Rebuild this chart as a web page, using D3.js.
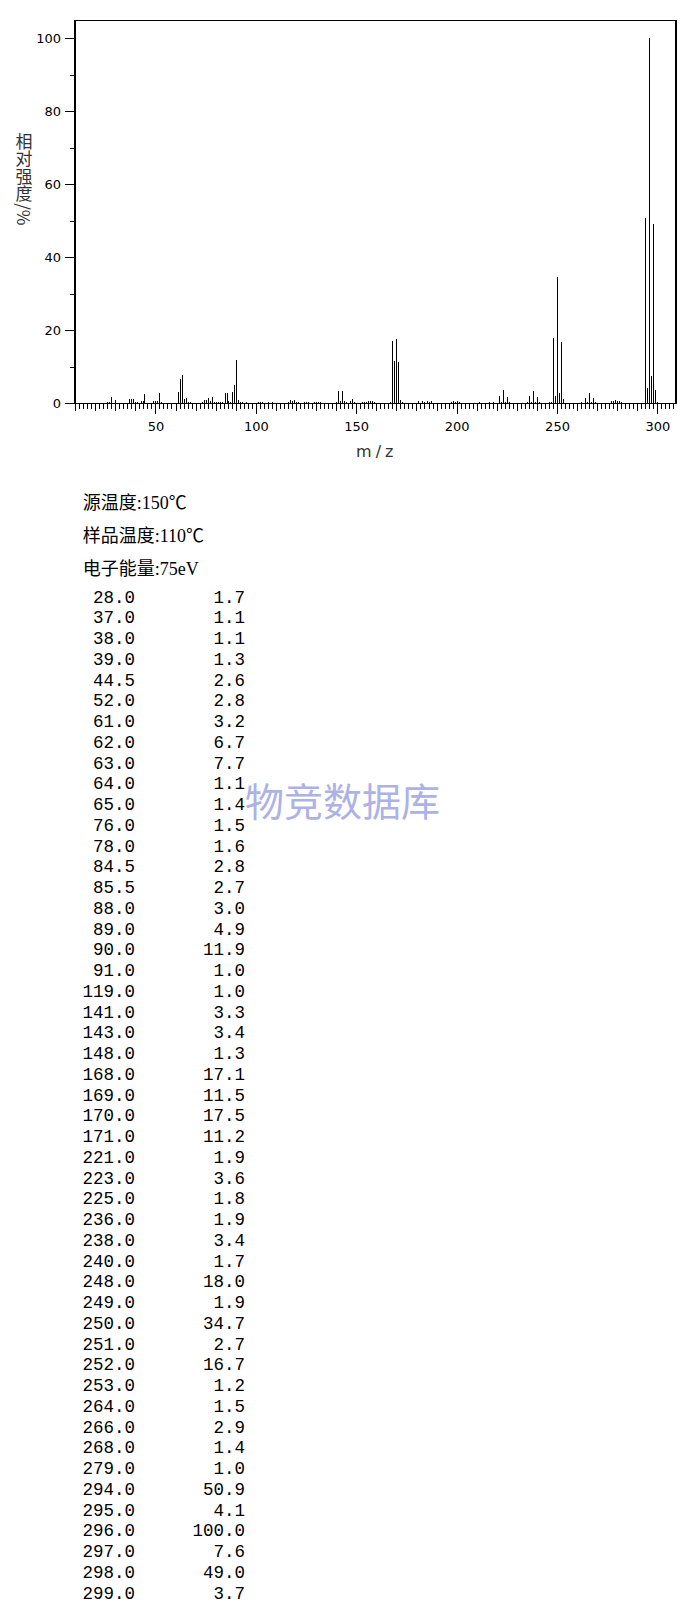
<!DOCTYPE html>
<html><head><meta charset="utf-8">
<script src="https://cdn.jsdelivr.net/npm/d3@7"></script>
<style>
html,body{margin:0;padding:0;background:#fff;}
svg{display:block;}
</style></head>
<body>
<script>
// ---- data ----
const tableMz = [28,37,38,39,44.5,52,61,62,63,64,65,76,78,84.5,85.5,88,89,90,91,119,141,143,148,168,169,170,171,221,223,225,236,238,240,248,249,250,251,252,253,264,266,268,279,294,295,296,297,298,299];
const tableInt = [1.7,1.1,1.1,1.3,2.6,2.8,3.2,6.7,7.7,1.1,1.4,1.5,1.6,2.8,2.7,3.0,4.9,11.9,1.0,1.0,3.3,3.4,1.3,17.1,11.5,17.5,11.2,1.9,3.6,1.8,1.9,3.4,1.7,18.0,1.9,34.7,2.7,16.7,1.2,1.5,2.9,1.4,1.0,50.9,4.1,100.0,7.6,49.0,3.7];
// small peaks (< 1 %) visible in the spectrum but not listed
const minorMz = [26,27,30,40,41,43,44,49,50,51,53,66,67,73,74,75,77,79,80,81,82,83,86,87,92,93,95,101,102,103,106,108,116,117,118,120,121,124,125,126,129,130,131,132,140,142,144,145,147,149,153,154,155,156,157,158,159,167,172,173,181,183,184,185,186,187,197,198,199,200,201,211,216,218,222,224,226,235,237,239,241,246,247,262,265,267,269,277,278,280,281,282,300];
const minorInt = [0.3,0.3,0.8,0.3,0.3,0.7,0.7,0.5,0.7,0.7,0.4,0.3,0.3,0.3,0.9,0.9,0.7,0.4,0.4,0.4,0.4,0.4,0.5,0.3,0.3,0.3,0.3,0.3,0.3,0.3,0.3,0.3,0.3,0.8,0.5,0.3,0.3,0.3,0.3,0.3,0.3,0.3,0.3,0.3,0.3,0.7,0.7,0.3,0.5,0.4,0.3,0.3,0.3,0.6,0.5,0.5,0.3,0.3,0.8,0.3,0.5,0.5,0.3,0.5,0.3,0.5,0.3,0.5,0.3,0.5,0.3,0.3,0.3,0.3,0.4,0.4,0.3,0.3,0.3,0.3,0.3,0.3,0.3,0.3,0.3,0.3,0.3,0.5,0.5,0.6,0.6,0.3,0.3];
const yTickValues = [0,20,40,60,80,100];
const xTickLabels = [50,100,150,200,250,300];
const infoLines = ["源温度:150℃","样品温度:110℃","电子能量:75eV"];
const yAxisTitle = "相对强度/%";
const xAxisTitle = "m/z";
const watermark = "物竞数据库";

// ---- layout ----
const W = 687, H = 1605;
const svg = d3.select("body").append("svg").attr("width", W).attr("height", H);
const x = d3.scaleLinear().domain([9.7, 309]).range([75, 676]);
const y = d3.scaleLinear().domain([0, 100]).range([403.3, 38.3]);
const yTop = 104.8;

const peaks = tableMz.map((m,i)=>({m, v: tableInt[i]}))
  .concat(minorMz.map((m,i)=>({m, v: minorInt[i]})));

// peaks
svg.append("g").attr("shape-rendering","crispEdges")
  .selectAll("line").data(peaks).join("line")
  .attr("x1", d=>x(d.m)).attr("x2", d=>x(d.m))
  .attr("y1", y(0)).attr("y2", d=>y(d.v))
  .attr("stroke","#000").attr("stroke-width",1);

// frame
svg.append("path").attr("shape-rendering","crispEdges")
  .attr("d", `M${x(9.7)},${y(0)}V${y(yTop)}H${x(309)}V${y(0)}Z`)
  .attr("fill","none").attr("stroke","#000").attr("stroke-width",1.3);

// y axis ticks (major + minor)
const yAxis = d3.axisLeft(y).tickValues(yTickValues).tickSize(10).tickPadding(4).tickFormat(d3.format("d"));
const gy = svg.append("g").attr("transform",`translate(${x(9.7)},0)`).call(yAxis);
gy.select(".domain").remove();
gy.selectAll("line").attr("shape-rendering","crispEdges");
gy.selectAll("text").attr("font-family","DejaVu Sans").attr("font-size",13).attr("fill","#000");
const gyMinor = svg.append("g").attr("transform",`translate(${x(9.7)},0)`)
  .call(d3.axisLeft(y).tickValues(d3.range(10,100,20)).tickSize(5).tickFormat(""));
gyMinor.select(".domain").remove();
gyMinor.selectAll("line").attr("shape-rendering","crispEdges");

// x axis ticks every 2, longer every 10, longest every 50
const allX = d3.range(10, 309, 2);
const gx = svg.append("g").attr("transform",`translate(0,${y(0)})`).attr("shape-rendering","crispEdges");
gx.selectAll("line").data(allX).join("line")
  .attr("x1", d=>x(d)).attr("x2", d=>x(d))
  .attr("y1", 0).attr("y2", d=> d%50===0 ? 11 : (d%10===0 ? 8 : 6))
  .attr("stroke","#000").attr("stroke-width",1);
svg.append("g").selectAll("text").data(xTickLabels).join("text")
  .attr("x", d=>x(d)).attr("y", 430.7)
  .attr("text-anchor","middle").attr("font-family","DejaVu Sans").attr("font-size",13)
  .text(d=>d);

// axis titles
svg.append("text").attr("x", x(160)).attr("y", 457)
  .attr("text-anchor","middle").attr("font-family","DejaVu Sans").attr("font-size",16)
  .attr("letter-spacing","4px").attr("fill","#333").text(xAxisTitle);
// y title: CJK part written vertically (upright), the rest rotated below it
const yChars = Array.from(yAxisTitle);
const cjk = yChars.filter(c=>/[\u4e00-\u9fff]/.test(c)).join("");
const rest = yChars.filter(c=>!/[\u4e00-\u9fff]/.test(c)).join("");
const gyt = svg.append("g").attr("font-family","Noto Sans CJK SC").attr("font-size",17).attr("fill","#333");
gyt.append("text").attr("x",24).attr("y",133)
  .style("writing-mode","vertical-rl").attr("letter-spacing","0.3px")
  .text(cjk);
gyt.append("text")
  .attr("transform",`translate(24,${133 + Array.from(cjk).length*17.3 + 1})rotate(90)`)
  .attr("text-anchor","start").attr("dominant-baseline","central").text(rest);

// info lines
svg.append("g").selectAll("text").data(infoLines).join("text")
  .attr("x", 82.7).attr("y", (d,i)=>503.3 + i*33)
  .attr("dominant-baseline","central")
  .attr("font-family","'Liberation Serif','Noto Sans CJK SC'").attr("font-size",18)
  .attr("fill","#000").text(d=>d);

// table
const fmt = d3.format(".1f");
const rowY = (d,i)=>597.5 + i*20.75;
const rows = svg.append("g").attr("font-family","Liberation Mono").attr("font-size",17.5).attr("fill","#000");
rows.selectAll("text.mz").data(tableMz).join("text").attr("class","mz")
  .attr("x",135).attr("y",rowY).attr("dominant-baseline","central")
  .attr("text-anchor","end").text(d=>fmt(d));
rows.selectAll("text.iv").data(tableInt).join("text").attr("class","iv")
  .attr("x",245).attr("y",rowY).attr("dominant-baseline","central")
  .attr("text-anchor","end").text(d=>fmt(d));

// watermark
svg.append("text").attr("x",245).attr("y",799).attr("dominant-baseline","central")
  .attr("font-family","Noto Sans CJK SC").attr("font-size",39).attr("fill","#adb2e6")
  .text(watermark);
</script>
</body></html>
